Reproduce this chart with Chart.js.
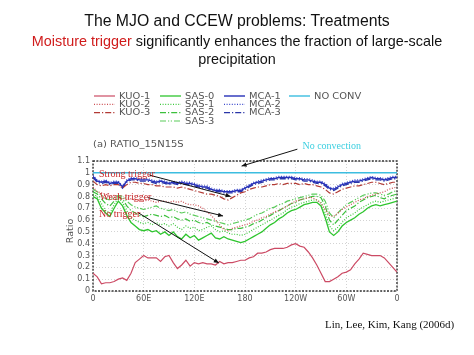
<!DOCTYPE html>
<html><head><meta charset="utf-8">
<script src="https://cdn.jsdelivr.net/npm/chart.js@4.4.1/dist/chart.umd.min.js"></script>
<style>
html,body{margin:0;padding:0;background:#fff;width:474px;height:355px;overflow:hidden;}
#c{position:absolute;left:0;top:0;}
.t{position:absolute;left:0;width:474px;text-align:center;font-family:"Liberation Sans",Arial,sans-serif;color:#111;white-space:nowrap;}
#t1{top:12px;font-size:15.8px;}
#t2{top:33px;font-size:14.4px;}
#t3{top:51px;font-size:14.4px;}
#cr{position:absolute;left:325px;top:318px;font-family:"Liberation Serif","Times New Roman",serif;font-size:11px;color:#111;white-space:nowrap;}
</style></head>
<body>
<canvas id="c" width="474" height="355"></canvas>
<div class="t" id="t1">The MJO and CCEW problems: Treatments</div>
<div class="t" id="t2"><span style="color:#d01c1c">Moisture trigger</span> significantly enhances the fraction of large-scale</div>
<div class="t" id="t3">precipitation</div>
<div id="cr">Lin, Lee, Kim, Kang (2006d)</div>
<script>
// longitude (deg east) 0..360 in 5 deg steps
const lons = [0,5,10,15,20,25,30,35,40,45,50,55,60,65,70,75,80,85,90,95,100,105,110,115,120,125,130,135,140,145,150,155,160,165,170,175,180,185,190,195,200,205,210,215,220,225,230,235,240,245,250,255,260,265,270,275,280,285,290,295,300,305,310,315,320,325,330,335,340,345,350,355,360];
const xTickLabels = ['0','60E','120E','180','120W','60W','0'];
const yTickValues = [0,0.1,0.2,0.3,0.4,0.5,0.6,0.7,0.8,0.9,1,1.1];

const kuo1 = [0.15,0.12,0.06,0.07,0.07,0.08,0.10,0.11,0.09,0.15,0.24,0.27,0.30,0.28,0.28,0.28,0.25,0.29,0.30,0.24,0.19,0.22,0.26,0.21,0.24,0.23,0.24,0.23,0.23,0.22,0.25,0.23,0.24,0.24,0.25,0.26,0.26,0.28,0.29,0.32,0.32,0.33,0.35,0.36,0.36,0.36,0.37,0.39,0.40,0.38,0.37,0.33,0.28,0.22,0.15,0.08,0.08,0.10,0.12,0.15,0.16,0.18,0.23,0.27,0.32,0.31,0.30,0.30,0.30,0.28,0.24,0.20,0.16];
const kuo2 = [0.88,0.84,0.83,0.82,0.80,0.81,0.80,0.78,0.79,0.78,0.77,0.77,0.76,0.77,0.76,0.75,0.76,0.76,0.75,0.76,0.75,0.76,0.74,0.73,0.73,0.72,0.70,0.67,0.64,0.60,0.56,0.52,0.51,0.53,0.54,0.55,0.56,0.57,0.59,0.60,0.62,0.63,0.65,0.67,0.68,0.70,0.72,0.74,0.76,0.77,0.78,0.79,0.79,0.77,0.74,0.69,0.64,0.63,0.66,0.69,0.71,0.73,0.75,0.77,0.78,0.80,0.81,0.82,0.83,0.84,0.86,0.87,0.88];
const kuo3 = [0.93,0.90,0.89,0.90,0.89,0.90,0.90,0.87,0.90,0.92,0.92,0.91,0.91,0.90,0.90,0.89,0.89,0.88,0.88,0.88,0.87,0.88,0.87,0.86,0.85,0.84,0.83,0.82,0.82,0.81,0.80,0.78,0.77,0.79,0.81,0.83,0.84,0.86,0.87,0.88,0.88,0.89,0.90,0.90,0.91,0.90,0.91,0.91,0.91,0.90,0.91,0.90,0.90,0.89,0.88,0.86,0.83,0.82,0.84,0.86,0.87,0.88,0.89,0.89,0.90,0.91,0.92,0.92,0.91,0.90,0.91,0.92,0.92];
const sas0 = [0.80,0.78,0.70,0.66,0.63,0.70,0.76,0.72,0.64,0.58,0.55,0.52,0.51,0.52,0.50,0.51,0.48,0.50,0.47,0.50,0.46,0.44,0.48,0.45,0.47,0.43,0.45,0.47,0.49,0.45,0.44,0.46,0.44,0.43,0.42,0.41,0.42,0.44,0.46,0.48,0.50,0.53,0.56,0.58,0.61,0.63,0.66,0.68,0.69,0.71,0.73,0.74,0.75,0.75,0.72,0.62,0.50,0.47,0.50,0.55,0.58,0.60,0.62,0.65,0.67,0.70,0.72,0.73,0.72,0.73,0.74,0.75,0.76];
const sas1 = [0.82,0.80,0.74,0.68,0.66,0.73,0.79,0.75,0.68,0.62,0.60,0.58,0.57,0.58,0.56,0.58,0.56,0.57,0.55,0.57,0.54,0.52,0.55,0.53,0.54,0.51,0.52,0.54,0.55,0.52,0.50,0.51,0.49,0.48,0.48,0.47,0.48,0.50,0.52,0.54,0.56,0.58,0.60,0.62,0.64,0.66,0.69,0.71,0.72,0.74,0.75,0.76,0.77,0.77,0.75,0.66,0.55,0.51,0.54,0.58,0.62,0.64,0.66,0.69,0.71,0.73,0.75,0.76,0.75,0.76,0.77,0.78,0.79];
const sas2 = [0.84,0.82,0.78,0.74,0.72,0.76,0.80,0.78,0.72,0.68,0.66,0.64,0.63,0.64,0.65,0.64,0.63,0.64,0.62,0.63,0.61,0.60,0.61,0.59,0.60,0.58,0.57,0.58,0.56,0.55,0.54,0.53,0.52,0.52,0.53,0.53,0.54,0.55,0.57,0.58,0.60,0.62,0.64,0.66,0.68,0.70,0.72,0.74,0.75,0.77,0.78,0.79,0.80,0.80,0.79,0.72,0.60,0.56,0.60,0.64,0.68,0.70,0.72,0.75,0.77,0.79,0.80,0.81,0.79,0.78,0.80,0.81,0.82];
const sas3 = [0.86,0.84,0.81,0.78,0.77,0.79,0.81,0.80,0.76,0.73,0.71,0.70,0.69,0.70,0.71,0.72,0.70,0.69,0.68,0.69,0.67,0.66,0.67,0.65,0.64,0.63,0.62,0.61,0.60,0.59,0.58,0.57,0.56,0.57,0.58,0.59,0.60,0.61,0.63,0.65,0.66,0.68,0.70,0.71,0.73,0.74,0.76,0.77,0.78,0.79,0.80,0.81,0.82,0.82,0.81,0.76,0.66,0.62,0.66,0.70,0.73,0.75,0.77,0.79,0.81,0.82,0.83,0.83,0.82,0.81,0.82,0.84,0.85];
const mca1 = [0.97,0.93,0.92,0.93,0.91,0.92,0.92,0.88,0.93,0.95,0.95,0.94,0.94,0.94,0.93,0.92,0.93,0.92,0.91,0.92,0.91,0.92,0.91,0.91,0.90,0.89,0.88,0.88,0.86,0.85,0.85,0.84,0.84,0.84,0.85,0.85,0.87,0.89,0.91,0.92,0.93,0.94,0.95,0.95,0.96,0.96,0.96,0.96,0.95,0.95,0.94,0.94,0.93,0.92,0.92,0.90,0.87,0.86,0.88,0.90,0.91,0.92,0.93,0.93,0.94,0.95,0.96,0.95,0.95,0.94,0.95,0.96,0.96];
const mca2 = [0.98,0.94,0.93,0.94,0.92,0.93,0.93,0.89,0.94,0.96,0.96,0.95,0.95,0.95,0.94,0.93,0.94,0.93,0.92,0.93,0.92,0.93,0.92,0.92,0.91,0.90,0.89,0.89,0.87,0.86,0.86,0.85,0.85,0.85,0.86,0.86,0.88,0.90,0.92,0.93,0.94,0.95,0.96,0.96,0.97,0.97,0.97,0.97,0.96,0.96,0.95,0.95,0.94,0.93,0.93,0.91,0.88,0.87,0.89,0.91,0.92,0.93,0.94,0.94,0.95,0.96,0.97,0.96,0.96,0.95,0.96,0.97,0.97];
const mca3 = [0.96,0.92,0.91,0.92,0.90,0.91,0.91,0.87,0.92,0.94,0.94,0.93,0.93,0.93,0.92,0.91,0.92,0.91,0.90,0.91,0.90,0.91,0.90,0.90,0.89,0.88,0.87,0.87,0.85,0.84,0.84,0.83,0.83,0.83,0.84,0.84,0.86,0.88,0.90,0.91,0.92,0.93,0.94,0.94,0.95,0.95,0.95,0.95,0.94,0.94,0.93,0.93,0.92,0.91,0.91,0.89,0.86,0.85,0.87,0.89,0.90,0.91,0.92,0.92,0.93,0.94,0.95,0.94,0.94,0.93,0.94,0.95,0.95];
const noConv = [1.0, 1.0];
const noConvLons = [0, 360];

const DOT=[1,1.6], DASHDOT=[6,2,1.2,2], DASHDOT2=[6,2,1.2,1.6,1.2,2];
function ser(label, xs, ys, color, dash, w, col){
  return {label, data: xs.map((x,i)=>({x, y: ys[i]})), borderColor: color, backgroundColor: color,
    borderDash: dash, borderWidth: w, pointRadius: 0, fill: false, tension: 0, legendCol: col};
}
const datasets = [
  ser('KUO-1', lons, kuo1, '#cc4a64', [], 1.2, 0),
  ser('KUO-2', lons, kuo2, '#cc4e52', DOT, 1.2, 0),
  ser('KUO-3', lons, kuo3, '#b23a34', DASHDOT, 1.2, 0),
  ser('SAS-0', lons, sas0, '#2ec52e', [], 1.3, 1),
  ser('SAS-1', lons, sas1, '#3cc83c', DOT, 1.2, 1),
  ser('SAS-2', lons, sas2, '#3cc03c', DASHDOT, 1.2, 1),
  ser('SAS-3', lons, sas3, '#5acb5a', DASHDOT2, 1.2, 1),
  ser('MCA-1', lons, mca1, '#2630b8', [], 1.4, 2),
  ser('MCA-2', lons, mca2, '#3a48cc', DOT, 1.3, 2),
  ser('MCA-3', lons, mca3, '#2a36a8', DASHDOT, 1.3, 2),
  ser('NO CONV', noConvLons, noConv, '#3cbde0', [], 1.4, 3)
];

const frame = {
  id:'frame',
  beforeDatasetsDraw(chart){
    const {ctx, chartArea:a} = chart;
    ctx.save(); ctx.strokeStyle='#333'; ctx.lineWidth=1.4; ctx.setLineDash([2,1.4]);
    ctx.strokeRect(a.left, a.top, a.right-a.left, a.bottom-a.top);
    ctx.restore();
  }
};
const legendCols = {
  id:'legendCols',
  afterDraw(chart){
    const ctx = chart.ctx;
    const colX = [94,160,224,289], rowY = [96,104.3,112.6,121];
    const rows = [0,0,0,0];
    ctx.save();
    ctx.font = '9px "DejaVu Sans", sans-serif'; ctx.textBaseline='middle'; ctx.fillStyle='#555';
    chart.data.datasets.forEach(ds=>{
      const c = ds.legendCol, r = rows[c]++;
      const x = colX[c], y = rowY[r];
      ctx.strokeStyle = ds.borderColor; ctx.lineWidth = ds.borderWidth; ctx.setLineDash(ds.borderDash);
      ctx.beginPath(); ctx.moveTo(x, y); ctx.lineTo(x+21, y); ctx.stroke();
      ctx.setLineDash([]);
      ctx.save(); ctx.translate(x+25, y+0.5); ctx.scale(1.1, 0.95);
      ctx.fillText(ds.label, 0, 0); ctx.restore();
    });
    ctx.font = '9.5px "DejaVu Sans", sans-serif';
    ctx.save(); ctx.translate(93, 145); ctx.scale(1.05, 1);
    ctx.fillText('(a) RATIO_15N15S', 0, 0); ctx.restore();
    ctx.translate(71, 231); ctx.rotate(-Math.PI/2); ctx.textAlign='center';
    ctx.fillText('Ratio', 0, 0);
    ctx.restore();
  }
};
// annotation texts and arrows placed in data coordinates (lon, ratio)
const notes = [
  {text:'No convection', color:'#3ccfe0', at:[248,1.225], from:[242,1.20], to:[176,1.057]},
  {text:'Strong trigger', color:'#c8282a', at:[7,0.985], from:[67,0.98], to:[163,0.80]},
  {text:'Weak trigger', color:'#c8282a', at:[8,0.79], from:[65,0.79], to:[154,0.635]},
  {text:'No trigger', color:'#c8282a', at:[7,0.65], from:[53,0.665], to:[149,0.237]}
];
const annot = {
  id:'annot',
  afterDatasetsDraw(chart){
    const {ctx, scales:{x, y}} = chart;
    ctx.save();
    notes.forEach(n=>{
      const x1=x.getPixelForValue(n.from[0]), y1=y.getPixelForValue(n.from[1]);
      const x2=x.getPixelForValue(n.to[0]), y2=y.getPixelForValue(n.to[1]);
      ctx.strokeStyle='#111'; ctx.fillStyle='#111'; ctx.lineWidth=1; ctx.setLineDash([]);
      ctx.beginPath(); ctx.moveTo(x1,y1); ctx.lineTo(x2,y2); ctx.stroke();
      const ang=Math.atan2(y2-y1,x2-x1), L=5, W=2.2;
      ctx.beginPath(); ctx.moveTo(x2,y2);
      ctx.lineTo(x2-L*Math.cos(ang)+W*Math.sin(ang), y2-L*Math.sin(ang)-W*Math.cos(ang));
      ctx.lineTo(x2-L*Math.cos(ang)-W*Math.sin(ang), y2-L*Math.sin(ang)+W*Math.cos(ang));
      ctx.closePath(); ctx.fill();
      ctx.font='10px "Liberation Serif", "Times New Roman", serif';
      ctx.fillStyle=n.color; ctx.textBaseline='middle';
      ctx.fillText(n.text, x.getPixelForValue(n.at[0]), y.getPixelForValue(n.at[1]));
    });
    ctx.restore();
  }
};

new Chart(document.getElementById('c'), {
  type:'line',
  data:{datasets},
  options:{
    responsive:false, animation:false, devicePixelRatio:1,
    layout:{padding:{left:71, top:161, right:77, bottom:50}},
    plugins:{legend:{display:false}, tooltip:{enabled:false}, title:{display:false}},
    elements:{point:{radius:0}, line:{borderCapStyle:'butt'}},
    scales:{
      x:{type:'linear', min:0, max:360,
        afterBuildTicks(s){ s.ticks = xTickLabels.map((_,i)=>({value:i*60})); },
        afterFit(s){ s.height = 14; },
        ticks:{callback:(v)=>xTickLabels[Math.round(v/60)], font:{size:8, family:'"DejaVu Sans", sans-serif'}, color:'#555', padding:3, maxRotation:0, autoSkip:false},
        grid:{color:'#c8c8c8', lineWidth:0.8, drawTicks:false},
        border:{display:false, dash:[1,2]}
      },
      y:{type:'linear', min:0, max:1.1,
        afterBuildTicks(s){ s.ticks = yTickValues.map(v=>({value:v})); },
        afterFit(s){ s.width = 22; },
        ticks:{callback:(v)=>String(Math.round(v*10)/10), font:{size:8, family:'"DejaVu Sans", sans-serif'}, color:'#555', padding:3, autoSkip:false},
        grid:{color:'#c8c8c8', lineWidth:0.8, drawTicks:false},
        border:{display:false, dash:[1,2]}
      }
    }
  },
  plugins:[frame, annot, legendCols]
});
</script>
</body></html>
